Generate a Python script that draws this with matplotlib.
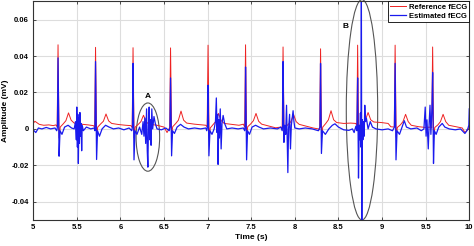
##### IMPORT MODULES ####
import matplotlib
matplotlib.use('Agg')
import matplotlib.pyplot as plt
from matplotlib.patches import Ellipse

######### DATA #######
# reference fECG, time (s) and amplitude (mV)
t_ref = [5.00, 5.02, 5.04, 5.07, 5.12, 5.18, 5.23, 5.26, 5.275,
         5.285, 5.297, 5.31, 5.345, 5.375, 5.405, 5.435, 5.47, 5.55, 5.63, 5.69, 5.705,
         5.715, 5.727, 5.74, 5.775, 5.805, 5.835, 5.865, 5.90, 5.98, 6.06, 6.12, 6.135,
         6.145, 6.157, 6.17, 6.205, 6.235, 6.265, 6.295, 6.33, 6.42, 6.50, 6.535, 6.565,
         6.575, 6.587, 6.60, 6.635, 6.665, 6.695, 6.725, 6.76, 6.85, 6.93, 6.98, 6.995,
         7.005, 7.017, 7.03, 7.065, 7.095, 7.125, 7.155, 7.19, 7.28, 7.36, 7.41, 7.425,
         7.435, 7.447, 7.46, 7.495, 7.525, 7.555, 7.585, 7.62, 7.70, 7.78, 7.84, 7.855,
         7.865, 7.877, 7.89, 7.925, 7.955, 7.985, 8.015, 8.05, 8.13, 8.21, 8.27, 8.285,
         8.295, 8.307, 8.32, 8.355, 8.385, 8.415, 8.445, 8.48, 8.56, 8.64, 8.70, 8.712,
         8.72, 8.732, 8.745, 8.78, 8.81, 8.84, 8.87, 8.905, 8.99, 9.07, 9.10, 9.14,
         9.15, 9.162, 9.175, 9.21, 9.24, 9.27, 9.30, 9.335, 9.42, 9.50, 9.56, 9.57,
         9.58, 9.592, 9.605, 9.64, 9.67, 9.70, 9.73, 9.765, 9.85, 9.92, 9.95, 9.98, 10.0]
v_ref = [0.0030, 0.0042, 0.0035, 0.0025, 0.0020, 0.0022, 0.0018, 0.0022, 0.0012,
         0.0462, -0.0050, 0.0010, 0.0028, 0.0045, 0.0088, 0.0048, 0.0032, 0.0026, 0.0022, 0.0018, 0.0010,
         0.0448, -0.0045, 0.0010, 0.0028, 0.0042, 0.0082, 0.0044, 0.0030, 0.0024, 0.0020, 0.0018, 0.0008,
         0.0446, -0.0050, 0.0010, 0.0025, 0.0040, 0.0075, 0.0038, 0.0026, 0.0020, 0.0010, -0.0020, 0.0008,
         0.0445, -0.0030, 0.0012, 0.0030, 0.0048, 0.0098, 0.0048, 0.0032, 0.0026, 0.0022, 0.0020, 0.0010,
         0.0460, -0.0050, 0.0005, 0.0025, 0.0042, 0.0085, 0.0046, 0.0030, 0.0025, 0.0020, 0.0026, 0.0010,
         0.0462, -0.0040, 0.0012, 0.0028, 0.0045, 0.0085, 0.0042, 0.0026, 0.0016, 0.0006, 0.0010, 0.0004,
         0.0450, -0.0040, 0.0010, 0.0025, 0.0040, 0.0080, 0.0040, 0.0025, 0.0015, 0.0005, 0.0000, -0.0005,
         0.0440, -0.0050, 0.0010, 0.0030, 0.0050, 0.0100, 0.0050, 0.0035, 0.0030, 0.0032, 0.0030, 0.0015,
         0.0460, -0.0040, 0.0015, 0.0035, 0.0050, 0.0090, 0.0050, 0.0038, 0.0035, 0.0030, 0.0012, 0.0010,
         0.0460, -0.0045, 0.0008, 0.0022, 0.0040, 0.0080, 0.0040, 0.0020, 0.0012, 0.0008, 0.0010, 0.0005,
         0.0450, -0.0050, 0.0008, 0.0022, 0.0040, 0.0080, 0.0040, 0.0020, 0.0012, 0.0005, -0.0020, -0.0005, 0.0010]

# estimated fECG
t_est = [5.00, 5.03, 5.06, 5.10, 5.15, 5.20, 5.25, 5.27, 5.278,
         5.285, 5.297, 5.308, 5.33, 5.36, 5.40, 5.44, 5.47, 5.485, 5.495, 5.50, 5.507, 5.512,
         5.518, 5.524, 5.53, 5.536, 5.543, 5.55, 5.556, 5.562, 5.575, 5.61, 5.66, 5.70, 5.708,
         5.715, 5.727, 5.738, 5.76, 5.79, 5.83, 5.87, 5.92, 5.98, 6.04, 6.10, 6.13, 6.138,
         6.145, 6.156, 6.168, 6.19, 6.22, 6.245, 6.26, 6.27, 6.28, 6.29, 6.30, 6.308, 6.315,
         6.322, 6.33, 6.338, 6.345, 6.352, 6.36, 6.37, 6.385, 6.40, 6.42, 6.47, 6.52, 6.56, 6.568,
         6.575, 6.587, 6.598, 6.62, 6.65, 6.69, 6.73, 6.78, 6.85, 6.92, 6.98, 6.99, 6.998,
         7.005, 7.015, 7.027, 7.05, 7.075, 7.09, 7.10, 7.108, 7.115, 7.12, 7.128, 7.135, 7.145,
         7.155, 7.165, 7.178, 7.195, 7.22, 7.28, 7.35, 7.41, 7.425, 7.43,
         7.435, 7.447, 7.458, 7.48, 7.51, 7.55, 7.59, 7.64, 7.72, 7.80, 7.84, 7.855, 7.86,
         7.865, 7.875, 7.885, 7.895, 7.905, 7.912, 7.92, 7.928, 7.94, 7.95, 7.96, 7.98, 7.99,
         8.00, 8.05, 8.12, 8.20, 8.27, 8.288,
         8.295, 8.305, 8.317, 8.35, 8.39, 8.43, 8.46, 8.50, 8.56, 8.62, 8.66, 8.68, 8.70, 8.712,
         8.72, 8.73, 8.738, 8.745, 8.752, 8.758, 8.763, 8.768, 8.774, 8.78, 8.788, 8.795, 8.802,
         8.81, 8.82, 8.84, 8.865, 8.89, 8.93, 9.00, 9.07, 9.12, 9.142,
         9.15, 9.16, 9.172, 9.20, 9.23, 9.255, 9.28, 9.33, 9.40, 9.45, 9.48, 9.495, 9.505,
         9.515, 9.53, 9.54, 9.55, 9.56, 9.572,
         9.58, 9.59, 9.60, 9.62, 9.65, 9.69, 9.72, 9.77, 9.84, 9.90, 9.95, 9.98, 9.995, 10.0]
v_est = [-0.0005, -0.0020, 0.0005, 0.0000, 0.0008, 0.0000, 0.0005, -0.0010, 0.0010,
         0.0390, -0.0150, -0.0010, -0.0030, 0.0010, 0.0020, 0.0005, 0.0000, 0.0040, -0.0060, 0.0120, -0.0100, 0.0080,
         -0.0190, 0.0060, -0.0080, 0.0090, -0.0040, 0.0030, -0.0120, 0.0020, -0.0010, 0.0010, 0.0000, 0.0005, -0.0010,
         0.0370, -0.0168, -0.0010, -0.0040, 0.0000, 0.0020, 0.0010, 0.0000, 0.0005, -0.0005, 0.0005, -0.0010, 0.0010,
         0.0360, -0.0170, -0.0010, -0.0030, 0.0010, -0.0030, 0.0040, -0.0040, 0.0060, -0.0080, 0.0110, -0.0120, -0.0210,
         0.0020, 0.0120, -0.0060, 0.0050, -0.0090, 0.0110, 0.0000, 0.0068, 0.0030, 0.0000, -0.0005, 0.0005, -0.0010, 0.0010,
         0.0280, -0.0148, -0.0010, -0.0025, 0.0010, 0.0025, 0.0010, 0.0000, 0.0005, 0.0000, 0.0005, -0.0010, 0.0010,
         0.0240, -0.0148, -0.0010, -0.0030, 0.0000, 0.0040, 0.0170, -0.0020, 0.0080, -0.0195, 0.0050, -0.0050, 0.0110,
         -0.0110, 0.0030, 0.0074, 0.0030, 0.0000, 0.0005, 0.0000, 0.0005, -0.0010, 0.0010,
         0.0340, -0.0170, -0.0010, -0.0030, 0.0010, 0.0020, 0.0010, 0.0000, 0.0005, 0.0000, 0.0010, -0.0010, 0.0010,
         0.0370, -0.0074, 0.0020, -0.0030, 0.0130, -0.0050, -0.0240, 0.0000, 0.0080, -0.0110, 0.0020, 0.0100, 0.0040,
         0.0005, 0.0000, 0.0005, 0.0000, -0.0010, 0.0010,
         0.0360, -0.0135, -0.0010, -0.0030, 0.0000, 0.0020, 0.0028, 0.0010, -0.0005, -0.0008, 0.0000, -0.0020, 0.0015, -0.0010,
         0.0280, -0.0270, 0.0020, -0.0060, 0.0087, -0.0100, 0.0750, -0.0550, 0.0050, -0.0060, 0.0040, -0.0040, 0.0130,
         0.0040, 0.0060, 0.0000, 0.0040, 0.0010, 0.0000, -0.0005, 0.0000, -0.0010, 0.0010,
         0.0360, -0.0170, -0.0010, -0.0030, 0.0010, 0.0045, 0.0010, 0.0000, 0.0005, -0.0010, 0.0000, 0.0120, -0.0040,
         0.0050, -0.0110, 0.0030, 0.0130, -0.0030, 0.0110,
         0.0310, -0.0190, -0.0010, -0.0030, 0.0010, 0.0030, 0.0010, 0.0000, -0.0005, 0.0000, -0.0025, -0.0005, 0.0020, 0.0110]

xticks = [5, 5.5, 6, 6.5, 7, 7.5, 8, 8.5, 9, 9.5, 10]
xticklabels = ['5', '5.5', '6', '6.5', '7', '7.5', '8', '8.5', '9', '9.5', '10']
yticks = [-0.04, -0.02, 0, 0.02, 0.04, 0.06]
yticklabels = ['-0.04', '-0.02', '0', '0.02', '0.04', '0.06']

##### PLOT ####
plt.rcParams['font.family'] = ['Liberation Sans', 'DejaVu Sans']
plt.rcParams['font.weight'] = 'bold'

fig = plt.figure(figsize=(4.74, 2.46), dpi=100)
ax = fig.add_axes([0.07, 0.106, 0.92, 0.888])

ax.plot(t_ref, v_ref, color='#ee2222', lw=0.7, label='Reference fECG')
ax.plot(t_est, v_est, color='#1a1aee', lw=0.9, label='Estimated fECG')

# circled regions
ax.add_patch(Ellipse((6.315, -0.0045), 0.27, 0.0375, fill=False, ec='#555555', lw=0.8))
ax.add_patch(Ellipse((8.77, 0.0105), 0.36, 0.121, fill=False, ec='#555555', lw=0.8, clip_on=False))
ax.text(6.315, 0.0176, 'A', ha='center', va='center', fontsize=6, fontweight='bold')
ax.text(8.58, 0.056, 'B', ha='center', va='center', fontsize=6, fontweight='bold')

ax.set_xlim(5, 10)
ax.set_ylim(-0.05, 0.07)
ax.set_xticks(xticks)
ax.set_xticklabels(xticklabels)
ax.set_yticks(yticks)
ax.set_yticklabels(yticklabels)
ax.tick_params(direction='in', length=2.5, width=0.6, labelsize=5.5, pad=3,
               top=True, right=True, color='#333333')
ax.grid(True, color='#dddddd', lw=0.8)
ax.set_axisbelow(True)
for s in ax.spines.values():
    s.set_linewidth(0.8)
    s.set_color('#333333')

ax.set_xlabel('Time (s)', fontsize=6, fontweight='bold', labelpad=2)
ax.set_ylabel('Amplitude (mV)', fontsize=6, fontweight='bold', labelpad=2)

leg = ax.legend(loc='upper right', fontsize=5.5, fancybox=False, framealpha=1,
                edgecolor='black', borderpad=0.3, handlelength=2.0, labelspacing=0.2,
                handletextpad=0.4, borderaxespad=0.0)
leg.get_frame().set_linewidth(0.6)

###### OUTPUT PLOT #########
plt.savefig('out.png', dpi=100)
